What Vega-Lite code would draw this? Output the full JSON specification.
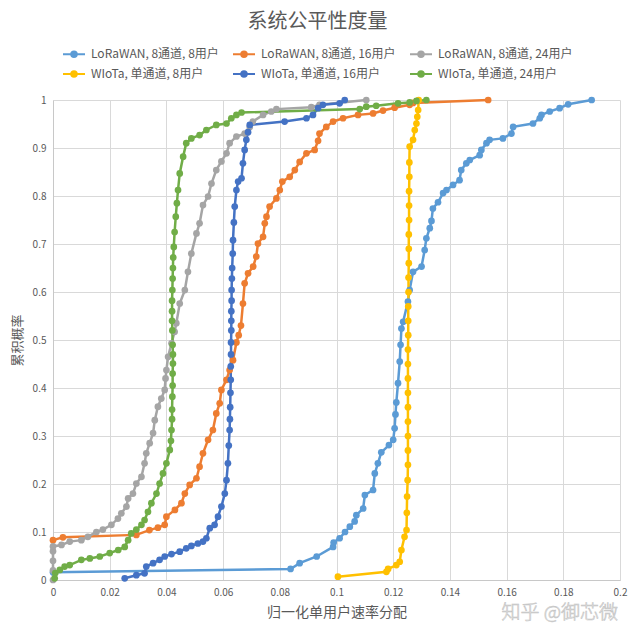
{
  "$schema": "https://vega.github.io/schema/vega-lite/v6.json",
  "width": 567,
  "height": 480,
  "autosize": {"type": "none"},
  "padding": {"left": 53, "top": 100, "right": 15, "bottom": 55},
  "background": "white",
  "config": {
    "font": "Noto Sans CJK SC",
    "view": {"stroke": null},
    "axis": {
      "grid": true,
      "gridColor": "#D9D9D9",
      "domainColor": "#C8C8C8",
      "ticks": false,
      "labelColor": "#595959",
      "labelFontSize": 10,
      "labelPadding": 7,
      "labelFlush": false,
      "titleColor": "#595959",
      "titleFontWeight": "normal"
    }
  },
  "title": {
    "text": "系统公平性度量",
    "fontSize": 20,
    "fontWeight": "normal",
    "color": "#595959",
    "anchor": "middle",
    "offset": 16,
    "dx": -19
  },
  "datasets": {
    "cdf": [
      {"s": "LoRaWAN, 8通道, 8用户", "x": 0, "y": 0.016},
      {"s": "LoRaWAN, 8通道, 8用户", "x": 0.0838, "y": 0.023},
      {"s": "LoRaWAN, 8通道, 8用户", "x": 0.087, "y": 0.035},
      {"s": "LoRaWAN, 8通道, 8用户", "x": 0.093, "y": 0.049},
      {"s": "LoRaWAN, 8通道, 8用户", "x": 0.0988, "y": 0.069},
      {"s": "LoRaWAN, 8通道, 8用户", "x": 0.099, "y": 0.078},
      {"s": "LoRaWAN, 8通道, 8用户", "x": 0.1011, "y": 0.087},
      {"s": "LoRaWAN, 8通道, 8用户", "x": 0.103, "y": 0.1},
      {"s": "LoRaWAN, 8通道, 8用户", "x": 0.1047, "y": 0.111},
      {"s": "LoRaWAN, 8通道, 8用户", "x": 0.1064, "y": 0.122},
      {"s": "LoRaWAN, 8通道, 8用户", "x": 0.107, "y": 0.135},
      {"s": "LoRaWAN, 8通道, 8用户", "x": 0.1094, "y": 0.149},
      {"s": "LoRaWAN, 8通道, 8用户", "x": 0.11, "y": 0.177},
      {"s": "LoRaWAN, 8通道, 8用户", "x": 0.1129, "y": 0.1875},
      {"s": "LoRaWAN, 8通道, 8用户", "x": 0.1135, "y": 0.222},
      {"s": "LoRaWAN, 8通道, 8用户", "x": 0.1146, "y": 0.243},
      {"s": "LoRaWAN, 8通道, 8用户", "x": 0.1158, "y": 0.266},
      {"s": "LoRaWAN, 8通道, 8用户", "x": 0.1185, "y": 0.281},
      {"s": "LoRaWAN, 8通道, 8用户", "x": 0.12, "y": 0.292},
      {"s": "LoRaWAN, 8通道, 8用户", "x": 0.1205, "y": 0.316},
      {"s": "LoRaWAN, 8通道, 8用户", "x": 0.1208, "y": 0.345},
      {"s": "LoRaWAN, 8通道, 8用户", "x": 0.1211, "y": 0.37},
      {"s": "LoRaWAN, 8通道, 8用户", "x": 0.1217, "y": 0.41},
      {"s": "LoRaWAN, 8通道, 8用户", "x": 0.1223, "y": 0.455},
      {"s": "LoRaWAN, 8通道, 8用户", "x": 0.1226, "y": 0.49},
      {"s": "LoRaWAN, 8通道, 8用户", "x": 0.1229, "y": 0.524},
      {"s": "LoRaWAN, 8通道, 8用户", "x": 0.1235, "y": 0.538},
      {"s": "LoRaWAN, 8通道, 8用户", "x": 0.1252, "y": 0.58},
      {"s": "LoRaWAN, 8通道, 8用户", "x": 0.1258, "y": 0.604},
      {"s": "LoRaWAN, 8通道, 8用户", "x": 0.127, "y": 0.642},
      {"s": "LoRaWAN, 8通道, 8用户", "x": 0.13, "y": 0.653},
      {"s": "LoRaWAN, 8通道, 8用户", "x": 0.1311, "y": 0.6875},
      {"s": "LoRaWAN, 8通道, 8用户", "x": 0.1317, "y": 0.712},
      {"s": "LoRaWAN, 8通道, 8用户", "x": 0.1329, "y": 0.733},
      {"s": "LoRaWAN, 8通道, 8用户", "x": 0.1335, "y": 0.748},
      {"s": "LoRaWAN, 8通道, 8用户", "x": 0.134, "y": 0.774},
      {"s": "LoRaWAN, 8通道, 8用户", "x": 0.1358, "y": 0.787},
      {"s": "LoRaWAN, 8通道, 8用户", "x": 0.1376, "y": 0.806},
      {"s": "LoRaWAN, 8通道, 8用户", "x": 0.1388, "y": 0.8125},
      {"s": "LoRaWAN, 8通道, 8用户", "x": 0.1411, "y": 0.823},
      {"s": "LoRaWAN, 8通道, 8用户", "x": 0.1434, "y": 0.833},
      {"s": "LoRaWAN, 8通道, 8用户", "x": 0.144, "y": 0.854},
      {"s": "LoRaWAN, 8通道, 8用户", "x": 0.1458, "y": 0.868},
      {"s": "LoRaWAN, 8通道, 8用户", "x": 0.147, "y": 0.875},
      {"s": "LoRaWAN, 8通道, 8用户", "x": 0.1505, "y": 0.885},
      {"s": "LoRaWAN, 8通道, 8用户", "x": 0.1511, "y": 0.896},
      {"s": "LoRaWAN, 8通道, 8用户", "x": 0.1529, "y": 0.91},
      {"s": "LoRaWAN, 8通道, 8用户", "x": 0.154, "y": 0.917},
      {"s": "LoRaWAN, 8通道, 8用户", "x": 0.1587, "y": 0.92},
      {"s": "LoRaWAN, 8通道, 8用户", "x": 0.1617, "y": 0.93},
      {"s": "LoRaWAN, 8通道, 8用户", "x": 0.1623, "y": 0.944},
      {"s": "LoRaWAN, 8通道, 8用户", "x": 0.1693, "y": 0.951},
      {"s": "LoRaWAN, 8通道, 8用户", "x": 0.1717, "y": 0.962},
      {"s": "LoRaWAN, 8通道, 8用户", "x": 0.1723, "y": 0.969},
      {"s": "LoRaWAN, 8通道, 8用户", "x": 0.1752, "y": 0.976},
      {"s": "LoRaWAN, 8通道, 8用户", "x": 0.1787, "y": 0.983},
      {"s": "LoRaWAN, 8通道, 8用户", "x": 0.1817, "y": 0.991},
      {"s": "LoRaWAN, 8通道, 8用户", "x": 0.19, "y": 1.0},

      {"s": "LoRaWAN, 8通道, 16用户", "x": 0, "y": 0.083},
      {"s": "LoRaWAN, 8通道, 16用户", "x": 0.0035, "y": 0.089},
      {"s": "LoRaWAN, 8通道, 16用户", "x": 0.0294, "y": 0.094},
      {"s": "LoRaWAN, 8通道, 16用户", "x": 0.034, "y": 0.104},
      {"s": "LoRaWAN, 8通道, 16用户", "x": 0.037, "y": 0.109},
      {"s": "LoRaWAN, 8通道, 16用户", "x": 0.0394, "y": 0.115},
      {"s": "LoRaWAN, 8通道, 16用户", "x": 0.04, "y": 0.132},
      {"s": "LoRaWAN, 8通道, 16用户", "x": 0.043, "y": 0.146},
      {"s": "LoRaWAN, 8通道, 16用户", "x": 0.0453, "y": 0.16},
      {"s": "LoRaWAN, 8通道, 16用户", "x": 0.0465, "y": 0.18},
      {"s": "LoRaWAN, 8通道, 16用户", "x": 0.0482, "y": 0.198},
      {"s": "LoRaWAN, 8通道, 16用户", "x": 0.0506, "y": 0.212},
      {"s": "LoRaWAN, 8通道, 16用户", "x": 0.0517, "y": 0.236},
      {"s": "LoRaWAN, 8通道, 16用户", "x": 0.0529, "y": 0.264},
      {"s": "LoRaWAN, 8通道, 16用户", "x": 0.0547, "y": 0.292},
      {"s": "LoRaWAN, 8通道, 16用户", "x": 0.0564, "y": 0.3125},
      {"s": "LoRaWAN, 8通道, 16用户", "x": 0.0576, "y": 0.347},
      {"s": "LoRaWAN, 8通道, 16用户", "x": 0.0588, "y": 0.368},
      {"s": "LoRaWAN, 8通道, 16用户", "x": 0.0594, "y": 0.396},
      {"s": "LoRaWAN, 8通道, 16用户", "x": 0.0612, "y": 0.417},
      {"s": "LoRaWAN, 8通道, 16用户", "x": 0.0623, "y": 0.4375},
      {"s": "LoRaWAN, 8通道, 16用户", "x": 0.0635, "y": 0.458},
      {"s": "LoRaWAN, 8通道, 16用户", "x": 0.0647, "y": 0.495},
      {"s": "LoRaWAN, 8通道, 16用户", "x": 0.0655, "y": 0.51},
      {"s": "LoRaWAN, 8通道, 16用户", "x": 0.0663, "y": 0.53},
      {"s": "LoRaWAN, 8通道, 16用户", "x": 0.067, "y": 0.576},
      {"s": "LoRaWAN, 8通道, 16用户", "x": 0.0676, "y": 0.618},
      {"s": "LoRaWAN, 8通道, 16用户", "x": 0.0688, "y": 0.639},
      {"s": "LoRaWAN, 8通道, 16用户", "x": 0.0706, "y": 0.653},
      {"s": "LoRaWAN, 8通道, 16用户", "x": 0.0717, "y": 0.674},
      {"s": "LoRaWAN, 8通道, 16用户", "x": 0.0723, "y": 0.701},
      {"s": "LoRaWAN, 8通道, 16用户", "x": 0.0741, "y": 0.715},
      {"s": "LoRaWAN, 8通道, 16用户", "x": 0.0747, "y": 0.743},
      {"s": "LoRaWAN, 8通道, 16用户", "x": 0.0753, "y": 0.757},
      {"s": "LoRaWAN, 8通道, 16用户", "x": 0.0764, "y": 0.778},
      {"s": "LoRaWAN, 8通道, 16用户", "x": 0.0788, "y": 0.795},
      {"s": "LoRaWAN, 8通道, 16用户", "x": 0.08, "y": 0.8125},
      {"s": "LoRaWAN, 8通道, 16用户", "x": 0.0809, "y": 0.83},
      {"s": "LoRaWAN, 8通道, 16用户", "x": 0.0835, "y": 0.84},
      {"s": "LoRaWAN, 8通道, 16用户", "x": 0.0853, "y": 0.854},
      {"s": "LoRaWAN, 8通道, 16用户", "x": 0.087, "y": 0.871},
      {"s": "LoRaWAN, 8通道, 16用户", "x": 0.0894, "y": 0.889},
      {"s": "LoRaWAN, 8通道, 16用户", "x": 0.0923, "y": 0.896},
      {"s": "LoRaWAN, 8通道, 16用户", "x": 0.0935, "y": 0.915},
      {"s": "LoRaWAN, 8通道, 16用户", "x": 0.094, "y": 0.93},
      {"s": "LoRaWAN, 8通道, 16用户", "x": 0.0964, "y": 0.944},
      {"s": "LoRaWAN, 8通道, 16用户", "x": 0.0988, "y": 0.955},
      {"s": "LoRaWAN, 8通道, 16用户", "x": 0.1023, "y": 0.962},
      {"s": "LoRaWAN, 8通道, 16用户", "x": 0.1076, "y": 0.969},
      {"s": "LoRaWAN, 8通道, 16用户", "x": 0.1129, "y": 0.972},
      {"s": "LoRaWAN, 8通道, 16用户", "x": 0.1164, "y": 0.978},
      {"s": "LoRaWAN, 8通道, 16用户", "x": 0.1205, "y": 0.984},
      {"s": "LoRaWAN, 8通道, 16用户", "x": 0.1258, "y": 0.99},
      {"s": "LoRaWAN, 8通道, 16用户", "x": 0.127, "y": 0.994},
      {"s": "LoRaWAN, 8通道, 16用户", "x": 0.1535, "y": 1.0},

      {"s": "LoRaWAN, 8通道, 24用户", "x": 0, "y": 0.0},
      {"s": "LoRaWAN, 8通道, 24用户", "x": 0, "y": 0.02},
      {"s": "LoRaWAN, 8通道, 24用户", "x": 0, "y": 0.04},
      {"s": "LoRaWAN, 8通道, 24用户", "x": 0, "y": 0.06},
      {"s": "LoRaWAN, 8通道, 24用户", "x": 0, "y": 0.07},
      {"s": "LoRaWAN, 8通道, 24用户", "x": 0.003, "y": 0.073},
      {"s": "LoRaWAN, 8通道, 24用户", "x": 0.0059, "y": 0.08},
      {"s": "LoRaWAN, 8通道, 24用户", "x": 0.01, "y": 0.083},
      {"s": "LoRaWAN, 8通道, 24用户", "x": 0.0123, "y": 0.09},
      {"s": "LoRaWAN, 8通道, 24用户", "x": 0.0153, "y": 0.1},
      {"s": "LoRaWAN, 8通道, 24用户", "x": 0.0176, "y": 0.105},
      {"s": "LoRaWAN, 8通道, 24用户", "x": 0.0206, "y": 0.115},
      {"s": "LoRaWAN, 8通道, 24用户", "x": 0.0229, "y": 0.128},
      {"s": "LoRaWAN, 8通道, 24用户", "x": 0.0241, "y": 0.139},
      {"s": "LoRaWAN, 8通道, 24用户", "x": 0.0259, "y": 0.153},
      {"s": "LoRaWAN, 8通道, 24用户", "x": 0.0265, "y": 0.17},
      {"s": "LoRaWAN, 8通道, 24用户", "x": 0.0282, "y": 0.18},
      {"s": "LoRaWAN, 8通道, 24用户", "x": 0.0294, "y": 0.201},
      {"s": "LoRaWAN, 8通道, 24用户", "x": 0.0312, "y": 0.215},
      {"s": "LoRaWAN, 8通道, 24用户", "x": 0.0323, "y": 0.243},
      {"s": "LoRaWAN, 8通道, 24用户", "x": 0.0329, "y": 0.264},
      {"s": "LoRaWAN, 8通道, 24用户", "x": 0.0341, "y": 0.285},
      {"s": "LoRaWAN, 8通道, 24用户", "x": 0.0353, "y": 0.306},
      {"s": "LoRaWAN, 8通道, 24用户", "x": 0.0359, "y": 0.333},
      {"s": "LoRaWAN, 8通道, 24用户", "x": 0.037, "y": 0.361},
      {"s": "LoRaWAN, 8通道, 24用户", "x": 0.0382, "y": 0.378},
      {"s": "LoRaWAN, 8通道, 24用户", "x": 0.0394, "y": 0.396},
      {"s": "LoRaWAN, 8通道, 24用户", "x": 0.0397, "y": 0.42},
      {"s": "LoRaWAN, 8通道, 24用户", "x": 0.04, "y": 0.4375},
      {"s": "LoRaWAN, 8通道, 24用户", "x": 0.0406, "y": 0.465},
      {"s": "LoRaWAN, 8通道, 24用户", "x": 0.0418, "y": 0.493},
      {"s": "LoRaWAN, 8通道, 24用户", "x": 0.0429, "y": 0.517},
      {"s": "LoRaWAN, 8通道, 24用户", "x": 0.0435, "y": 0.535},
      {"s": "LoRaWAN, 8通道, 24用户", "x": 0.0447, "y": 0.576},
      {"s": "LoRaWAN, 8通道, 24用户", "x": 0.0465, "y": 0.604},
      {"s": "LoRaWAN, 8通道, 24用户", "x": 0.0476, "y": 0.642},
      {"s": "LoRaWAN, 8通道, 24用户", "x": 0.0488, "y": 0.68},
      {"s": "LoRaWAN, 8通道, 24用户", "x": 0.0506, "y": 0.722},
      {"s": "LoRaWAN, 8通道, 24用户", "x": 0.0517, "y": 0.743},
      {"s": "LoRaWAN, 8通道, 24用户", "x": 0.0529, "y": 0.781},
      {"s": "LoRaWAN, 8通道, 24用户", "x": 0.0547, "y": 0.799},
      {"s": "LoRaWAN, 8通道, 24用户", "x": 0.0559, "y": 0.826},
      {"s": "LoRaWAN, 8通道, 24用户", "x": 0.0576, "y": 0.854},
      {"s": "LoRaWAN, 8通道, 24用户", "x": 0.0594, "y": 0.872},
      {"s": "LoRaWAN, 8通道, 24用户", "x": 0.0612, "y": 0.889},
      {"s": "LoRaWAN, 8通道, 24用户", "x": 0.0623, "y": 0.91},
      {"s": "LoRaWAN, 8通道, 24用户", "x": 0.0647, "y": 0.924},
      {"s": "LoRaWAN, 8通道, 24用户", "x": 0.0676, "y": 0.93},
      {"s": "LoRaWAN, 8通道, 24用户", "x": 0.0694, "y": 0.944},
      {"s": "LoRaWAN, 8通道, 24用户", "x": 0.0705, "y": 0.955},
      {"s": "LoRaWAN, 8通道, 24用户", "x": 0.0741, "y": 0.969},
      {"s": "LoRaWAN, 8通道, 24用户", "x": 0.077, "y": 0.976},
      {"s": "LoRaWAN, 8通道, 24用户", "x": 0.0788, "y": 0.981},
      {"s": "LoRaWAN, 8通道, 24用户", "x": 0.0911, "y": 0.985},
      {"s": "LoRaWAN, 8通道, 24用户", "x": 0.094, "y": 0.99},
      {"s": "LoRaWAN, 8通道, 24用户", "x": 0.1105, "y": 1.0},

      {"s": "WIoTa, 单通道, 8用户", "x": 0.1005, "y": 0.007},
      {"s": "WIoTa, 单通道, 8用户", "x": 0.1176, "y": 0.017},
      {"s": "WIoTa, 单通道, 8用户", "x": 0.1182, "y": 0.023},
      {"s": "WIoTa, 单通道, 8用户", "x": 0.1211, "y": 0.031},
      {"s": "WIoTa, 单通道, 8用户", "x": 0.1223, "y": 0.038},
      {"s": "WIoTa, 单通道, 8用户", "x": 0.1229, "y": 0.0625},
      {"s": "WIoTa, 单通道, 8用户", "x": 0.124, "y": 0.09},
      {"s": "WIoTa, 单通道, 8用户", "x": 0.1247, "y": 0.104},
      {"s": "WIoTa, 单通道, 8用户", "x": 0.1248, "y": 0.14},
      {"s": "WIoTa, 单通道, 8用户", "x": 0.1249, "y": 0.174},
      {"s": "WIoTa, 单通道, 8用户", "x": 0.1251, "y": 0.208},
      {"s": "WIoTa, 单通道, 8用户", "x": 0.1252, "y": 0.24},
      {"s": "WIoTa, 单通道, 8用户", "x": 0.1252, "y": 0.27},
      {"s": "WIoTa, 单通道, 8用户", "x": 0.1252, "y": 0.3},
      {"s": "WIoTa, 单通道, 8用户", "x": 0.1252, "y": 0.33},
      {"s": "WIoTa, 单通道, 8用户", "x": 0.1252, "y": 0.36},
      {"s": "WIoTa, 单通道, 8用户", "x": 0.1252, "y": 0.39},
      {"s": "WIoTa, 单通道, 8用户", "x": 0.1252, "y": 0.42},
      {"s": "WIoTa, 单通道, 8用户", "x": 0.1252, "y": 0.45},
      {"s": "WIoTa, 单通道, 8用户", "x": 0.1252, "y": 0.48},
      {"s": "WIoTa, 单通道, 8用户", "x": 0.1253, "y": 0.51},
      {"s": "WIoTa, 单通道, 8用户", "x": 0.1253, "y": 0.54},
      {"s": "WIoTa, 单通道, 8用户", "x": 0.1253, "y": 0.57},
      {"s": "WIoTa, 单通道, 8用户", "x": 0.1254, "y": 0.6},
      {"s": "WIoTa, 单通道, 8用户", "x": 0.1254, "y": 0.63},
      {"s": "WIoTa, 单通道, 8用户", "x": 0.1255, "y": 0.66},
      {"s": "WIoTa, 单通道, 8用户", "x": 0.1255, "y": 0.69},
      {"s": "WIoTa, 单通道, 8用户", "x": 0.1255, "y": 0.72},
      {"s": "WIoTa, 单通道, 8用户", "x": 0.1256, "y": 0.75},
      {"s": "WIoTa, 单通道, 8用户", "x": 0.1256, "y": 0.78},
      {"s": "WIoTa, 单通道, 8用户", "x": 0.1256, "y": 0.81},
      {"s": "WIoTa, 单通道, 8用户", "x": 0.1257, "y": 0.84},
      {"s": "WIoTa, 单通道, 8用户", "x": 0.1257, "y": 0.87},
      {"s": "WIoTa, 单通道, 8用户", "x": 0.1258, "y": 0.903},
      {"s": "WIoTa, 单通道, 8用户", "x": 0.127, "y": 0.917},
      {"s": "WIoTa, 单通道, 8用户", "x": 0.1276, "y": 0.9375},
      {"s": "WIoTa, 单通道, 8用户", "x": 0.1282, "y": 0.951},
      {"s": "WIoTa, 单通道, 8用户", "x": 0.1285, "y": 0.965},
      {"s": "WIoTa, 单通道, 8用户", "x": 0.1288, "y": 0.979},
      {"s": "WIoTa, 单通道, 8用户", "x": 0.129, "y": 1.0},

      {"s": "WIoTa, 单通道, 16用户", "x": 0.0253, "y": 0.0035},
      {"s": "WIoTa, 单通道, 16用户", "x": 0.0294, "y": 0.01},
      {"s": "WIoTa, 单通道, 16用户", "x": 0.0323, "y": 0.014},
      {"s": "WIoTa, 单通道, 16用户", "x": 0.0329, "y": 0.028},
      {"s": "WIoTa, 单通道, 16用户", "x": 0.0353, "y": 0.035},
      {"s": "WIoTa, 单通道, 16用户", "x": 0.0376, "y": 0.042},
      {"s": "WIoTa, 单通道, 16用户", "x": 0.0394, "y": 0.049},
      {"s": "WIoTa, 单通道, 16用户", "x": 0.0418, "y": 0.054},
      {"s": "WIoTa, 单通道, 16用户", "x": 0.0447, "y": 0.059},
      {"s": "WIoTa, 单通道, 16用户", "x": 0.047, "y": 0.066},
      {"s": "WIoTa, 单通道, 16用户", "x": 0.0488, "y": 0.071},
      {"s": "WIoTa, 单通道, 16用户", "x": 0.0511, "y": 0.076},
      {"s": "WIoTa, 单通道, 16用户", "x": 0.0529, "y": 0.08},
      {"s": "WIoTa, 单通道, 16用户", "x": 0.0541, "y": 0.087},
      {"s": "WIoTa, 单通道, 16用户", "x": 0.0553, "y": 0.108},
      {"s": "WIoTa, 单通道, 16用户", "x": 0.057, "y": 0.115},
      {"s": "WIoTa, 单通道, 16用户", "x": 0.0582, "y": 0.132},
      {"s": "WIoTa, 单通道, 16用户", "x": 0.0594, "y": 0.153},
      {"s": "WIoTa, 单通道, 16用户", "x": 0.0606, "y": 0.18},
      {"s": "WIoTa, 单通道, 16用户", "x": 0.0612, "y": 0.208},
      {"s": "WIoTa, 单通道, 16用户", "x": 0.0617, "y": 0.243},
      {"s": "WIoTa, 单通道, 16用户", "x": 0.062, "y": 0.28},
      {"s": "WIoTa, 单通道, 16用户", "x": 0.0623, "y": 0.3125},
      {"s": "WIoTa, 单通道, 16用户", "x": 0.0624, "y": 0.335},
      {"s": "WIoTa, 单通道, 16用户", "x": 0.0625, "y": 0.36},
      {"s": "WIoTa, 单通道, 16用户", "x": 0.0626, "y": 0.39},
      {"s": "WIoTa, 单通道, 16用户", "x": 0.0627, "y": 0.417},
      {"s": "WIoTa, 单通道, 16用户", "x": 0.0627, "y": 0.445},
      {"s": "WIoTa, 单通道, 16用户", "x": 0.0628, "y": 0.47},
      {"s": "WIoTa, 单通道, 16用户", "x": 0.0628, "y": 0.495},
      {"s": "WIoTa, 单通道, 16用户", "x": 0.0629, "y": 0.52},
      {"s": "WIoTa, 单通道, 16用户", "x": 0.0629, "y": 0.54},
      {"s": "WIoTa, 单通道, 16用户", "x": 0.0629, "y": 0.56},
      {"s": "WIoTa, 单通道, 16用户", "x": 0.063, "y": 0.582},
      {"s": "WIoTa, 单通道, 16用户", "x": 0.063, "y": 0.604},
      {"s": "WIoTa, 单通道, 16用户", "x": 0.0631, "y": 0.628},
      {"s": "WIoTa, 单通道, 16用户", "x": 0.0632, "y": 0.65},
      {"s": "WIoTa, 单通道, 16用户", "x": 0.0634, "y": 0.68},
      {"s": "WIoTa, 单通道, 16用户", "x": 0.0635, "y": 0.708},
      {"s": "WIoTa, 单通道, 16用户", "x": 0.0638, "y": 0.745},
      {"s": "WIoTa, 单通道, 16用户", "x": 0.0641, "y": 0.778},
      {"s": "WIoTa, 单通道, 16用户", "x": 0.0647, "y": 0.8125},
      {"s": "WIoTa, 单通道, 16用户", "x": 0.0653, "y": 0.83},
      {"s": "WIoTa, 单通道, 16用户", "x": 0.0665, "y": 0.837},
      {"s": "WIoTa, 单通道, 16用户", "x": 0.067, "y": 0.868},
      {"s": "WIoTa, 单通道, 16用户", "x": 0.0676, "y": 0.896},
      {"s": "WIoTa, 单通道, 16用户", "x": 0.0682, "y": 0.917},
      {"s": "WIoTa, 单通道, 16用户", "x": 0.0688, "y": 0.933},
      {"s": "WIoTa, 单通道, 16用户", "x": 0.0694, "y": 0.948},
      {"s": "WIoTa, 单通道, 16用户", "x": 0.0817, "y": 0.955},
      {"s": "WIoTa, 单通道, 16用户", "x": 0.0894, "y": 0.962},
      {"s": "WIoTa, 单通道, 16用户", "x": 0.0917, "y": 0.969},
      {"s": "WIoTa, 单通道, 16用户", "x": 0.0935, "y": 0.983},
      {"s": "WIoTa, 单通道, 16用户", "x": 0.0952, "y": 0.99},
      {"s": "WIoTa, 单通道, 16用户", "x": 0.1011, "y": 0.993},
      {"s": "WIoTa, 单通道, 16用户", "x": 0.1029, "y": 1.0},

      {"s": "WIoTa, 单通道, 24用户", "x": 0.0006, "y": 0.0035},
      {"s": "WIoTa, 单通道, 24用户", "x": 0.0008, "y": 0.0146},
      {"s": "WIoTa, 单通道, 24用户", "x": 0.0024, "y": 0.021},
      {"s": "WIoTa, 单通道, 24用户", "x": 0.0041, "y": 0.028},
      {"s": "WIoTa, 单通道, 24用户", "x": 0.0059, "y": 0.031},
      {"s": "WIoTa, 单通道, 24用户", "x": 0.01, "y": 0.042},
      {"s": "WIoTa, 单通道, 24用户", "x": 0.013, "y": 0.045},
      {"s": "WIoTa, 单通道, 24用户", "x": 0.0165, "y": 0.049},
      {"s": "WIoTa, 单通道, 24用户", "x": 0.02, "y": 0.056},
      {"s": "WIoTa, 单通道, 24用户", "x": 0.023, "y": 0.0625},
      {"s": "WIoTa, 单通道, 24用户", "x": 0.0253, "y": 0.069},
      {"s": "WIoTa, 单通道, 24用户", "x": 0.0265, "y": 0.083},
      {"s": "WIoTa, 单通道, 24用户", "x": 0.0276, "y": 0.097},
      {"s": "WIoTa, 单通道, 24用户", "x": 0.0294, "y": 0.105},
      {"s": "WIoTa, 单通道, 24用户", "x": 0.0312, "y": 0.115},
      {"s": "WIoTa, 单通道, 24用户", "x": 0.0323, "y": 0.125},
      {"s": "WIoTa, 单通道, 24用户", "x": 0.0335, "y": 0.142},
      {"s": "WIoTa, 单通道, 24用户", "x": 0.0347, "y": 0.16},
      {"s": "WIoTa, 单通道, 24用户", "x": 0.0365, "y": 0.18},
      {"s": "WIoTa, 单通道, 24用户", "x": 0.0376, "y": 0.201},
      {"s": "WIoTa, 单通道, 24用户", "x": 0.0388, "y": 0.222},
      {"s": "WIoTa, 单通道, 24用户", "x": 0.04, "y": 0.243},
      {"s": "WIoTa, 单通道, 24用户", "x": 0.0412, "y": 0.271},
      {"s": "WIoTa, 单通道, 24用户", "x": 0.0416, "y": 0.29},
      {"s": "WIoTa, 单通道, 24用户", "x": 0.0418, "y": 0.3125},
      {"s": "WIoTa, 单通道, 24用户", "x": 0.042, "y": 0.335},
      {"s": "WIoTa, 单通道, 24用户", "x": 0.042, "y": 0.355},
      {"s": "WIoTa, 单通道, 24用户", "x": 0.0421, "y": 0.382},
      {"s": "WIoTa, 单通道, 24用户", "x": 0.0422, "y": 0.405},
      {"s": "WIoTa, 单通道, 24用户", "x": 0.0422, "y": 0.43},
      {"s": "WIoTa, 单通道, 24用户", "x": 0.0423, "y": 0.451},
      {"s": "WIoTa, 单通道, 24用户", "x": 0.0423, "y": 0.47},
      {"s": "WIoTa, 单通道, 24用户", "x": 0.0422, "y": 0.49},
      {"s": "WIoTa, 单通道, 24用户", "x": 0.0421, "y": 0.52},
      {"s": "WIoTa, 单通道, 24用户", "x": 0.042, "y": 0.54},
      {"s": "WIoTa, 单通道, 24用户", "x": 0.042, "y": 0.56},
      {"s": "WIoTa, 单通道, 24用户", "x": 0.042, "y": 0.582},
      {"s": "WIoTa, 单通道, 24用户", "x": 0.0421, "y": 0.604},
      {"s": "WIoTa, 单通道, 24用户", "x": 0.0422, "y": 0.628},
      {"s": "WIoTa, 单通道, 24用户", "x": 0.0423, "y": 0.65},
      {"s": "WIoTa, 单通道, 24用户", "x": 0.0424, "y": 0.672},
      {"s": "WIoTa, 单通道, 24用户", "x": 0.0426, "y": 0.694},
      {"s": "WIoTa, 单通道, 24用户", "x": 0.0429, "y": 0.725},
      {"s": "WIoTa, 单通道, 24用户", "x": 0.0433, "y": 0.757},
      {"s": "WIoTa, 单通道, 24用户", "x": 0.0437, "y": 0.785},
      {"s": "WIoTa, 单通道, 24用户", "x": 0.0441, "y": 0.8125},
      {"s": "WIoTa, 单通道, 24用户", "x": 0.0447, "y": 0.847},
      {"s": "WIoTa, 单通道, 24用户", "x": 0.0459, "y": 0.882},
      {"s": "WIoTa, 单通道, 24用户", "x": 0.047, "y": 0.91},
      {"s": "WIoTa, 单通道, 24用户", "x": 0.0488, "y": 0.92},
      {"s": "WIoTa, 单通道, 24用户", "x": 0.0517, "y": 0.927},
      {"s": "WIoTa, 单通道, 24用户", "x": 0.0541, "y": 0.9375},
      {"s": "WIoTa, 单通道, 24用户", "x": 0.0576, "y": 0.948},
      {"s": "WIoTa, 单通道, 24用户", "x": 0.0612, "y": 0.951},
      {"s": "WIoTa, 单通道, 24用户", "x": 0.0629, "y": 0.962},
      {"s": "WIoTa, 单通道, 24用户", "x": 0.0647, "y": 0.969},
      {"s": "WIoTa, 单通道, 24用户", "x": 0.0665, "y": 0.974},
      {"s": "WIoTa, 单通道, 24用户", "x": 0.1082, "y": 0.981},
      {"s": "WIoTa, 单通道, 24用户", "x": 0.1105, "y": 0.986},
      {"s": "WIoTa, 单通道, 24用户", "x": 0.114, "y": 0.988},
      {"s": "WIoTa, 单通道, 24用户", "x": 0.1217, "y": 0.993},
      {"s": "WIoTa, 单通道, 24用户", "x": 0.1258, "y": 0.995},
      {"s": "WIoTa, 单通道, 24用户", "x": 0.1282, "y": 0.998},
      {"s": "WIoTa, 单通道, 24用户", "x": 0.1317, "y": 1.0}
    ],
    "mark": [{"label": "知乎 @御芯微", "x": 0.1993, "y": -0.069}]
  },
  "layer": [
    {
      "data": {"name": "cdf"},
      "mark": {"type": "line", "strokeWidth": 2.5},
      "encoding": {
        "x": {"field": "x", "type": "quantitative", "scale": {"domain": [0, 0.2]},
              "axis": {"values": [0, 0.02, 0.04, 0.06, 0.08, 0.1, 0.12, 0.14, 0.16, 0.18, 0.2], "format": "~g", "title": "归一化单用户速率分配", "titleFontSize": 14, "titlePadding": 8}},
        "y": {"field": "y", "type": "quantitative", "scale": {"domain": [0, 1]},
              "axis": {"values": [0, 0.1, 0.2, 0.3, 0.4, 0.5, 0.6, 0.7, 0.8, 0.9, 1], "format": "~g", "title": "累积概率", "titleFontSize": 13, "titlePadding": 8}},
        "color": {"field": "s", "type": "nominal",
                  "scale": {"domain": ["LoRaWAN, 8通道, 8用户", "LoRaWAN, 8通道, 16用户", "LoRaWAN, 8通道, 24用户", "WIoTa, 单通道, 8用户", "WIoTa, 单通道, 16用户", "WIoTa, 单通道, 24用户"],
                            "range": ["#5B9BD5", "#ED7D31", "#A5A5A5", "#FFC000", "#4472C4", "#70AD47"]},
                  "legend": {"title": null, "orient": "none", "legendX": 15, "legendY": -52, "columns": 3, "direction": "horizontal",
                             "symbolType": "M-2.2,0L2.2,0M-0.55,0A0.55,0.55,0,1,0,0.55,0A0.55,0.55,0,1,0,-0.55,0Z",
                             "symbolSize": 100, "symbolStrokeWidth": 2, "labelFontSize": 12, "labelColor": "#595959",
                             "labelOffset": 11, "columnPadding": 10, "rowPadding": 6}},
        "order": {"field": "y", "type": "quantitative"}
      }
    },
    {
      "data": {"name": "cdf"},
      "mark": {"type": "point", "filled": true, "size": 45, "opacity": 1},
      "encoding": {
        "x": {"field": "x", "type": "quantitative"},
        "y": {"field": "y", "type": "quantitative"},
        "color": {"field": "s", "type": "nominal"}
      }
    },
    {
      "data": {"name": "mark"},
      "mark": {"type": "text", "align": "right", "baseline": "middle", "fontSize": 19, "fontWeight": 300, "fill": "#fbfbfb", "stroke": "#c2c2c2", "strokeWidth": 0.6},
      "encoding": {
        "x": {"field": "x", "type": "quantitative"},
        "y": {"field": "y", "type": "quantitative"},
        "text": {"field": "label"}
      }
    }
  ]
}
